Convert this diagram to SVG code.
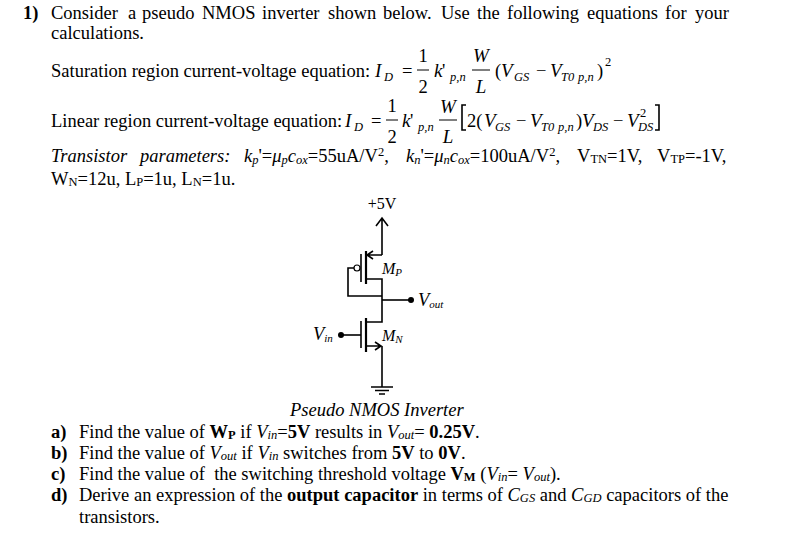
<svg xmlns="http://www.w3.org/2000/svg" width="807" height="545" viewBox="0 0 807 545">
<style>
text{font-family:"Liberation Serif","Times New Roman",serif;font-size:18.500px;fill:#000}
.i{font-style:italic}
.b{font-weight:bold}
.s{font-size:12.500px}
.si{font-size:12.500px;font-style:italic}
.x{font-size:11px;font-style:italic}
.m{font-size:19px;font-style:italic}
.n{font-size:18.500px}
.c{font-size:16px}
.w{stroke:#000;stroke-width:1.6;fill:none}
.t{stroke:#000;stroke-width:2.2;fill:none}
.f{stroke:#000;stroke-width:1;fill:none}
</style>
<rect width="807" height="545" fill="#fff"/>
<g id="question-text">
<text x="23" y="19" class="b">1)</text>
<text y="19"><tspan x="51">Consider</tspan><tspan x="128">a</tspan><tspan x="142">pseudo</tspan><tspan x="202">NMOS</tspan><tspan x="262">inverter</tspan><tspan x="328">shown</tspan><tspan x="383">below.</tspan><tspan x="441">Use</tspan><tspan x="477">the</tspan><tspan x="507">following</tspan><tspan x="587">equations</tspan><tspan x="665">for</tspan><tspan x="695">your</tspan></text>
<text x="51" y="39">calculations.</text>
<text x="51" y="77">Saturation region current-voltage equation:</text>
<text x="51" y="127">Linear region current-voltage equation:</text>
<text y="162"><tspan x="51" class="i">Transistor</tspan><tspan x="140" class="i">parameters:</tspan><tspan x="244" class="i">k</tspan><tspan class="si" dy="2">p</tspan><tspan dy="-2">'=</tspan><tspan class="i">μ</tspan><tspan class="si" dy="2">p</tspan><tspan class="i" dy="-2">c</tspan><tspan class="si" dy="2">ox</tspan><tspan dy="-2">=55uA/V</tspan><tspan class="s" dy="-6">2</tspan><tspan dy="6">,</tspan><tspan x="406" class="i">k</tspan><tspan class="si" dy="2">n</tspan><tspan dy="-2">'=</tspan><tspan class="i">μ</tspan><tspan class="si" dy="2">n</tspan><tspan class="i" dy="-2">c</tspan><tspan class="si" dy="2">ox</tspan><tspan dy="-2">=100uA/V</tspan><tspan class="s" dy="-6">2</tspan><tspan dy="6">,</tspan><tspan x="577">V</tspan><tspan class="s" dy="1">TN</tspan><tspan dy="-1">=1V,</tspan><tspan x="657">V</tspan><tspan class="s" dy="1">TP</tspan><tspan dy="-1">=-1V,</tspan></text>
<text y="185"><tspan x="51">W</tspan><tspan class="s" dy="1">N</tspan><tspan dy="-1">=12u, L</tspan><tspan class="s" dy="1">P</tspan><tspan dy="-1">=1u, L</tspan><tspan class="s" dy="1">N</tspan><tspan dy="-1">=1u.</tspan></text>
</g>
<g id="saturation-equation">
<text x="375" y="77" class="m">I</text><text x="384" y="81" class="si">D</text>
<text x="402" y="77" class="n">=</text>
<text x="423" y="62" class="n" text-anchor="middle">1</text><text x="423" y="93" class="n" text-anchor="middle">2</text>
<line x1="417" y1="70" x2="429" y2="70" class="f"/>
<text x="434" y="77" class="m">k</text><text x="442" y="77" class="n">'</text>
<text x="450" y="81" class="si">p,n</text>
<text x="481" y="62" class="m" text-anchor="middle">W</text><text x="481" y="93" class="m" text-anchor="middle">L</text>
<line x1="472" y1="70" x2="490" y2="70" class="f"/>
<text x="495" y="77" class="n">(</text><text x="501" y="77" class="m">V</text>
<text x="514" y="81" class="si">GS</text>
<text x="536" y="77" class="n">−</text>
<text x="550" y="77" class="m">V</text>
<text x="561" y="81" class="si">T0</text><text x="578" y="81" class="si">p,n</text>
<text x="597" y="77" class="n">)</text><text x="605" y="66" class="s">2</text>
</g>
<g id="linear-equation">
<text x="345" y="127" class="m">I</text><text x="354" y="131" class="si">D</text>
<text x="371" y="127" class="n">=</text>
<text x="392" y="112" class="n" text-anchor="middle">1</text><text x="392" y="143" class="n" text-anchor="middle">2</text>
<line x1="386" y1="120" x2="398" y2="120" class="f"/>
<text x="402" y="127" class="m">k</text><text x="410" y="127" class="n">'</text>
<text x="418" y="131" class="si">p,n</text>
<text x="448" y="113" class="m" text-anchor="middle">W</text><text x="448" y="143" class="m" text-anchor="middle">L</text>
<line x1="439" y1="120" x2="457" y2="120" class="f"/>
<path d="M466 105H462V130H466M655 105H659V130H655" class="w"/>
<text x="467" y="127" class="n">2(</text><text x="484" y="127" class="m">V</text>
<text x="495" y="131" class="si">GS</text>
<text x="516" y="127" class="n">−</text>
<text x="530" y="127" class="m">V</text>
<text x="541" y="131" class="si">T0</text><text x="558" y="131" class="si">p,n</text>
<text x="576" y="127" class="n">)</text><text x="582" y="127" class="m">V</text>
<text x="593" y="131" class="si">DS</text>
<text x="613" y="127" class="n">−</text>
<text x="627" y="127" class="m">V</text>
<text x="640" y="117" class="s">2</text><text x="638" y="131" class="si">DS</text>
</g>
<g id="connectors">
<path d="M382 255V219M376 226L382 218L388 226" class="w"/>
<path d="M382 255H367M373 251L367 255L373 259" class="w"/>
<path d="M366 279H382V322H366" class="w"/>
<path d="M354 268H348V296H382" class="w"/>
<path d="M382 300H411" class="w"/>
<path d="M341 335H361" class="w"/>
<path d="M366 346H381M375 342L381 346L375 350" class="w"/>
<path d="M382 346V387" class="w"/>
</g>
<g id="vdd"><text x="382" y="209" text-anchor="middle" class="c">+5V</text></g>
<g id="mp">
<path d="M366 251V284" class="t"/>
<path d="M361 254V282" class="w"/>
<circle cx="357" cy="268" r="3" fill="#fff" stroke="#000" stroke-width="1.2"/>
<text y="274"><tspan x="382" class="i c">M</tspan><tspan class="x" dy="2">P</tspan></text>
</g>
<g id="mn">
<path d="M366 318V352" class="t"/>
<path d="M361 321V348" class="w"/>
<text y="341"><tspan x="382" class="i c">M</tspan><tspan class="x" dy="2">N</tspan></text>
</g>
<g id="vout">
<circle cx="411" cy="300" r="3" fill="#000"/>
<text y="306"><tspan x="418" class="i">V</tspan><tspan class="x" dy="2">out</tspan></text>
</g>
<g id="vin">
<circle cx="341" cy="335" r="3" fill="#000"/>
<text y="340"><tspan x="313" class="i">V</tspan><tspan class="x" dy="2">in</tspan></text>
</g>
<g id="ground">
<path d="M371 387H393M375 390.500H389M379 394H385" class="w"/>
</g>
<g id="caption"><text x="290" y="416" class="i">Pseudo NMOS Inverter</text></g>
<g id="questions">
<text x="51" y="438" class="b">a)</text>
<text y="438"><tspan x="79">Find the value of </tspan><tspan class="b">W</tspan><tspan class="s b" dy="1">P</tspan><tspan dy="-1"> if </tspan><tspan class="i">V</tspan><tspan class="si" dy="1">in</tspan><tspan dy="-1">=</tspan><tspan class="b">5V</tspan><tspan> results in </tspan><tspan class="i">V</tspan><tspan class="si" dy="1">out</tspan><tspan dy="-1">= </tspan><tspan class="b">0.25V</tspan><tspan>.</tspan></text>
<text x="51" y="459" class="b">b)</text>
<text y="459"><tspan x="79">Find the value of </tspan><tspan class="i">V</tspan><tspan class="si" dy="1">out</tspan><tspan dy="-1"> if </tspan><tspan class="i">V</tspan><tspan class="si" dy="1">in</tspan><tspan dy="-1"> switches from </tspan><tspan class="b">5V</tspan><tspan> to </tspan><tspan class="b">0V</tspan><tspan>.</tspan></text>
<text x="51" y="480" class="b">c)</text>
<text y="480" xml:space="preserve"><tspan x="79">Find the value of  the switching threshold voltage </tspan><tspan class="b">V</tspan><tspan class="s b" dy="1">M</tspan><tspan dy="-1"> (</tspan><tspan class="i">V</tspan><tspan class="si" dy="1">in</tspan><tspan dy="-1">= </tspan><tspan class="i">V</tspan><tspan class="si" dy="1">out</tspan><tspan dy="-1">).</tspan></text>
<text x="51" y="501" class="b">d)</text>
<text y="501"><tspan x="79">Derive an expression of the </tspan><tspan class="b">output capacitor</tspan><tspan> in terms of </tspan><tspan class="i">C</tspan><tspan class="si" dy="1">GS</tspan><tspan dy="-1"> and </tspan><tspan class="i">C</tspan><tspan class="si" dy="1">GD</tspan><tspan dy="-1"> capacitors of the</tspan></text>
<text x="79" y="523">transistors.</text>
</g>
</svg>
